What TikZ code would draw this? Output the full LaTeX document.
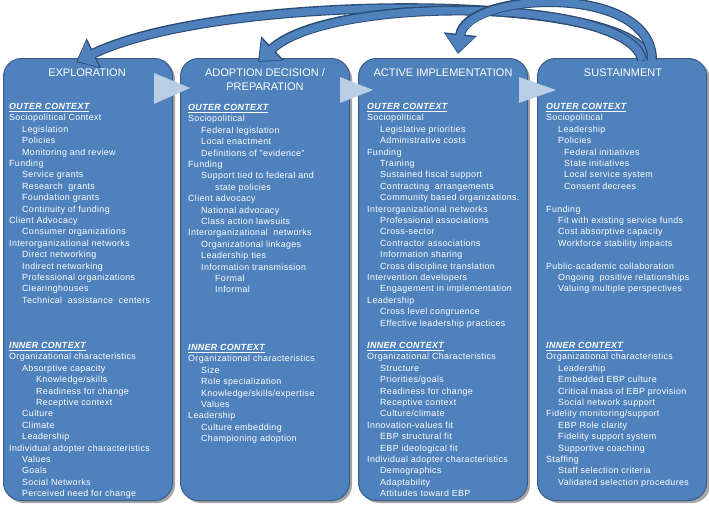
\documentclass[tikz,border=0pt]{standalone}
\usepackage{fontspec}
\setmainfont{Liberation Sans}
\usetikzlibrary{arrows.meta}
\definecolor{colfill}{HTML}{4F81BD}
\definecolor{colline}{HTML}{385D8A}
\definecolor{arrline}{HTML}{2C4D75}
\definecolor{trifill}{HTML}{B9CDE5}
\newcommand{\ia}{\hspace*{13pt}}
\newcommand{\ib}{\hspace*{27pt}}
\newcommand{\hd}[1]{\textbf{\textit{\underline{#1}}}}
\begin{document}
\begin{tikzpicture}[x=1pt,y=-1pt,
  col/.style={draw=colline,line width=1pt,fill=colfill,rounded corners=18pt,minimum width=169pt,minimum height=442pt,anchor=north west,inner sep=0pt},
  shadow/.style={fill=black!35,rounded corners=18pt},
  ttl/.style={text=white,font=\fontsize{11}{14}\selectfont,align=center},
  body/.style={text=white,font=\fontsize{8.9}{11.4}\selectfont\addfontfeatures{LetterSpace=4},align=left,anchor=north west,inner sep=0pt},
  tri/.style={fill=trifill,draw=none},
  bigarr/.style={line width=10pt,draw=arrline,-{Triangle[length=20pt,width=32pt]},
     postaction={draw=colfill,line width=7.5pt,shorten >=1.5pt,-{Triangle[length=17pt,width=28pt]}}}]
\useasboundingbox (0,0) rectangle (709,504);
\fill[white] (0,0) rectangle (709,504);
% shadows
\foreach \x in {3,180,358,538}{\fill[shadow] (\x+3,61) rectangle (\x+172,503);}
\node[col] (c1) at (3,58) {};
\node[col] (c2) at (180,58) {};
\node[col] (c3) at (358,58) {};
\node[col] (c4) at (537,58) {};
\node[ttl] (t1) at (87,73) {EXPLORATION};
\node[ttl] (t2) at (265,80) {ADOPTION DECISION /\\PREPARATION};
\node[ttl] (t3) at (443,73) {ACTIVE IMPLEMENTATION};
\node[ttl] (t4) at (623,73) {SUSTAINMENT};
% curved arrows
\coordinate (s1) at (648,60);
\coordinate (s2) at (642,60);
\coordinate (s3) at (652,60);
\coordinate (e1) at (76,62);
\coordinate (e2) at (258,62);
\coordinate (e3) at (458,54);
\draw[bigarr] (s1) .. controls (640,-8) and (220,-8) .. (e1);
\draw[bigarr] (s2) .. controls (630,-2) and (330,-6) .. (e2);
\draw[bigarr] (s3) .. controls (652,-18) and (465,-8) .. (e3);
% triangles
\fill[tri] (154,73) -- (154,104) -- (190,88) -- cycle;
\fill[tri] (340,77) -- (340,103) -- (373,90) -- cycle;
\fill[tri] (519,77) -- (519,103) -- (556,90) -- cycle;
% bodies
\node[body] (b1) at (9,103) {\hd{OUTER CONTEXT}\\
Sociopolitical Context\\
\ia Legislation\\
\ia Policies\\
\ia Monitoring and review\\
Funding\\
\ia Service grants\\
\ia Research\ \ grants\\
\ia Foundation grants\\
\ia Continuity of funding\\
Client Advocacy\\
\ia Consumer organizations\\
Interorganizational networks\\
\ia Direct networking\\
\ia Indirect networking\\
\ia Professional organizations\\
\ia Clearinghouses\\
\ia Technical\ \ assistance\ \ centers};
\node[body] (i1) at (9,342) {\hd{INNER CONTEXT}\\
Organizational characteristics\\
\ia Absorptive capacity\\
\ib Knowledge/skills\\
\ib Readiness for change\\
\ib Receptive context\\
\ia Culture\\
\ia Climate\\
\ia Leadership\\
Individual adopter characteristics\\
\ia Values\\
\ia Goals\\
\ia Social Networks\\
\ia Perceived need for change};
\node[body] (b2) at (188,104) {\hd{OUTER CONTEXT}\\
Sociopolitical\\
\ia Federal legislation\\
\ia Local enactment\\
\ia Definitions of "evidence"\\
Funding\\
\ia Support tied to federal and\\
\ib state policies\\
Client advocacy\\
\ia National advocacy\\
\ia Class action lawsuits\\
Interorganizational\ \ networks\\
\ia Organizational linkages\\
\ia Leadership ties\\
\ia Information transmission\\
\ib Formal\\
\ib Informal};
\node[body] (i2) at (188,344) {\hd{INNER CONTEXT}\\
Organizational characteristics\\
\ia Size\\
\ia Role specialization\\
\ia Knowledge/skills/expertise\\
\ia Values\\
Leadership\\
\ia Culture embedding\\
\ia Championing adoption};
\node[body] (b3) at (367,103) {\hd{OUTER CONTEXT}\\
Sociopolitical\\
\ia Legislative priorities\\
\ia Administrative costs\\
Funding\\
\ia Training\\
\ia Sustained fiscal support\\
\ia Contracting\ \ arrangements\\
\ia Community based organizations.\\
Interorganizational networks\\
\ia Professional associations\\
\ia Cross-sector\\
\ia Contractor associations\\
\ia Information sharing\\
\ia Cross discipline translation\\
Intervention developers\\
\ia Engagement in implementation\\
Leadership\\
\ia Cross level congruence\\
\ia Effective leadership practices};
\node[body] (i3) at (367,342) {\hd{INNER CONTEXT}\\
Organizational Characteristics\\
\ia Structure\\
\ia Priorities/goals\\
\ia Readiness for change\\
\ia Receptive context\\
\ia Culture/climate\\
Innovation-values fit\\
\ia EBP structural fit\\
\ia EBP ideological fit\\
Individual adopter characteristics\\
\ia Demographics\\
\ia Adaptability\\
\ia Attitudes toward EBP};
\node[body] (b4) at (546,103) {\hd{OUTER CONTEXT}\\
Sociopolitical\\
\hspace*{12pt}Leadership\\
\hspace*{12pt}Policies\\
\hspace*{18pt}Federal initiatives\\
\hspace*{18pt}State initiatives\\
\hspace*{18pt}Local service system\\
\hspace*{18pt}Consent decrees\\[11.4pt]
Funding\\
\hspace*{12pt}Fit with existing service funds\\
\hspace*{12pt}Cost absorptive capacity\\
\hspace*{12pt}Workforce stability impacts\\[11.4pt]
Public-academic collaboration\\
\hspace*{12pt}Ongoing\ \ positive relationships\\
\hspace*{12pt}Valuing multiple perspectives};
\node[body] (i4) at (546,342) {\hd{INNER CONTEXT}\\
Organizational characteristics\\
\hspace*{12pt}Leadership\\
\hspace*{12pt}Embedded EBP culture\\
\hspace*{12pt}Critical mass of EBP provision\\
\hspace*{12pt}Social network support\\
Fidelity monitoring/support\\
\hspace*{12pt}EBP Role clarity\\
\hspace*{12pt}Fidelity support system\\
\hspace*{12pt}Supportive coaching\\
Staffing\\
\hspace*{12pt}Staff selection criteria\\
\hspace*{12pt}Validated selection procedures};
\end{tikzpicture}
\end{document}
